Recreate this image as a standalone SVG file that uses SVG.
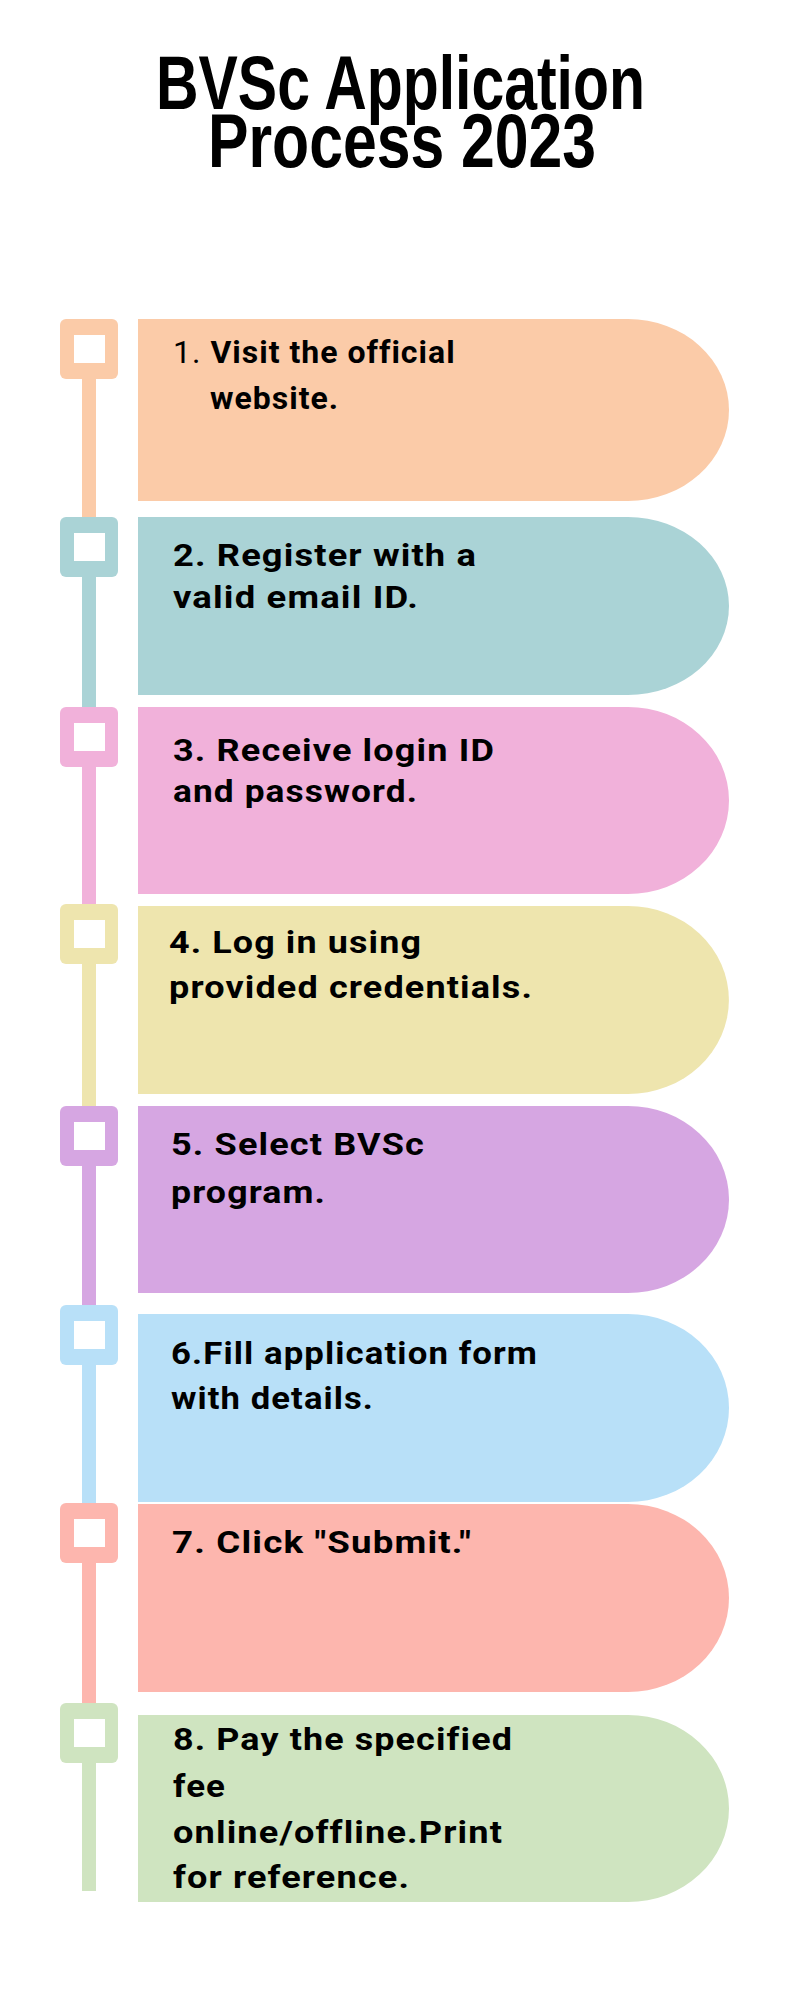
<svg xmlns="http://www.w3.org/2000/svg" width="800" height="2000" viewBox="0 0 800 2000">
<style>
.t{font-family:Roboto,"Liberation Sans",sans-serif;font-weight:700;font-size:32px;fill:#000;letter-spacing:1px}
.n{font-weight:400}
.h{font-family:"Liberation Sans",Arial,sans-serif;font-weight:700;font-size:76px;fill:#000}
.in{fill:#fff}
</style>
<rect width="800" height="2000" fill="#fff"/>
<g id="title">
<text class="h" x="156" y="109" textLength="489" lengthAdjust="spacingAndGlyphs">BVSc Application</text>
<text class="h" x="208" y="167" textLength="388" lengthAdjust="spacingAndGlyphs">Process 2023</text>
</g>
<g id="connectors">
<rect x="82" y="375" width="14" height="145" fill="#FBCBA8"/>
<rect x="82" y="575" width="14" height="135" fill="#AAD3D6"/>
<rect x="82" y="762" width="14" height="145" fill="#F1B1DA"/>
<rect x="82" y="960" width="14" height="150" fill="#EEE5AE"/>
<rect x="82" y="1160" width="14" height="148" fill="#D6A6E2"/>
<rect x="82" y="1360" width="14" height="146" fill="#B8E0F8"/>
<rect x="82" y="1560" width="14" height="146" fill="#FDB6AE"/>
<rect x="82" y="1760" width="14" height="131" fill="#CFE4C0"/>
</g>
<g id="step1">
<path d="M138,319 H628 A101,91 0 0 1 628,501 H138 Z" fill="#FBCBA8"/>
<rect x="60" y="319" width="58" height="60" rx="6" fill="#FBCBA8"/><rect class="in" x="74" y="335" width="31" height="28"/>
<text class="t" x="173" y="363"><tspan class="n">1.</tspan> Visit the official</text>
<text class="t" x="210" y="409">website.</text>
</g>
<g id="step2">
<path d="M138,517 H628 A101,89 0 0 1 628,695 H138 Z" fill="#AAD3D6"/>
<rect x="60" y="517" width="58" height="60" rx="6" fill="#AAD3D6"/><rect class="in" x="74" y="533" width="31" height="28"/>
<text class="t" x="173" y="566" textLength="304" lengthAdjust="spacingAndGlyphs">2. Register with a</text>
<text class="t" x="173" y="608" textLength="246" lengthAdjust="spacingAndGlyphs">valid email ID.</text>
</g>
<g id="step3">
<path d="M138,707 H628 A101,93.5 0 0 1 628,894 H138 Z" fill="#F1B1DA"/>
<rect x="60" y="707" width="58" height="60" rx="6" fill="#F1B1DA"/><rect class="in" x="74" y="723" width="31" height="28"/>
<text class="t" x="173" y="761" textLength="322" lengthAdjust="spacingAndGlyphs">3. Receive login ID</text>
<text class="t" x="173" y="802" textLength="245" lengthAdjust="spacingAndGlyphs">and password.</text>
</g>
<g id="step4">
<path d="M138,906 H628 A101,94 0 0 1 628,1094 H138 Z" fill="#EEE5AE"/>
<rect x="60" y="904" width="58" height="60" rx="6" fill="#EEE5AE"/><rect class="in" x="74" y="920" width="31" height="28"/>
<text class="t" x="169" y="953" textLength="253" lengthAdjust="spacingAndGlyphs">4. Log in using</text>
<text class="t" x="169" y="998" textLength="364" lengthAdjust="spacingAndGlyphs">provided credentials.</text>
</g>
<g id="step5">
<path d="M138,1106 H628 A101,93.5 0 0 1 628,1293 H138 Z" fill="#D6A6E2"/>
<rect x="60" y="1106" width="58" height="60" rx="6" fill="#D6A6E2"/><rect class="in" x="74" y="1122" width="31" height="28"/>
<text class="t" x="171" y="1155" textLength="254" lengthAdjust="spacingAndGlyphs">5. Select BVSc</text>
<text class="t" x="171" y="1203" textLength="155" lengthAdjust="spacingAndGlyphs">program.</text>
</g>
<g id="step6">
<path d="M138,1314 H628 A101,94 0 0 1 628,1502 H138 Z" fill="#B8E0F8"/>
<rect x="60" y="1305" width="58" height="60" rx="6" fill="#B8E0F8"/><rect class="in" x="74" y="1321" width="31" height="28"/>
<text class="t" x="171" y="1364" textLength="367" lengthAdjust="spacingAndGlyphs">6.Fill application form</text>
<text class="t" x="171" y="1409" textLength="203" lengthAdjust="spacingAndGlyphs">with details.</text>
</g>
<g id="step7">
<path d="M138,1504 H628 A101,94 0 0 1 628,1692 H138 Z" fill="#FDB6AE"/>
<rect x="60" y="1503" width="58" height="60" rx="6" fill="#FDB6AE"/><rect class="in" x="74" y="1519" width="31" height="28"/>
<text class="t" x="172" y="1553" textLength="300" lengthAdjust="spacingAndGlyphs">7. Click "Submit."</text>
</g>
<g id="step8">
<path d="M138,1715 H628 A101,93.5 0 0 1 628,1902 H138 Z" fill="#CFE4C0"/>
<rect x="60" y="1703" width="58" height="60" rx="6" fill="#CFE4C0"/><rect class="in" x="74" y="1719" width="31" height="28"/>
<text class="t" x="173" y="1750" textLength="340" lengthAdjust="spacingAndGlyphs">8. Pay the specified</text>
<text class="t" x="173" y="1797" textLength="53" lengthAdjust="spacingAndGlyphs">fee</text>
<text class="t" x="173" y="1843" textLength="330" lengthAdjust="spacingAndGlyphs">online/offline.Print</text>
<text class="t" x="173" y="1888" textLength="237" lengthAdjust="spacingAndGlyphs">for reference.</text>
</g>
</svg>
